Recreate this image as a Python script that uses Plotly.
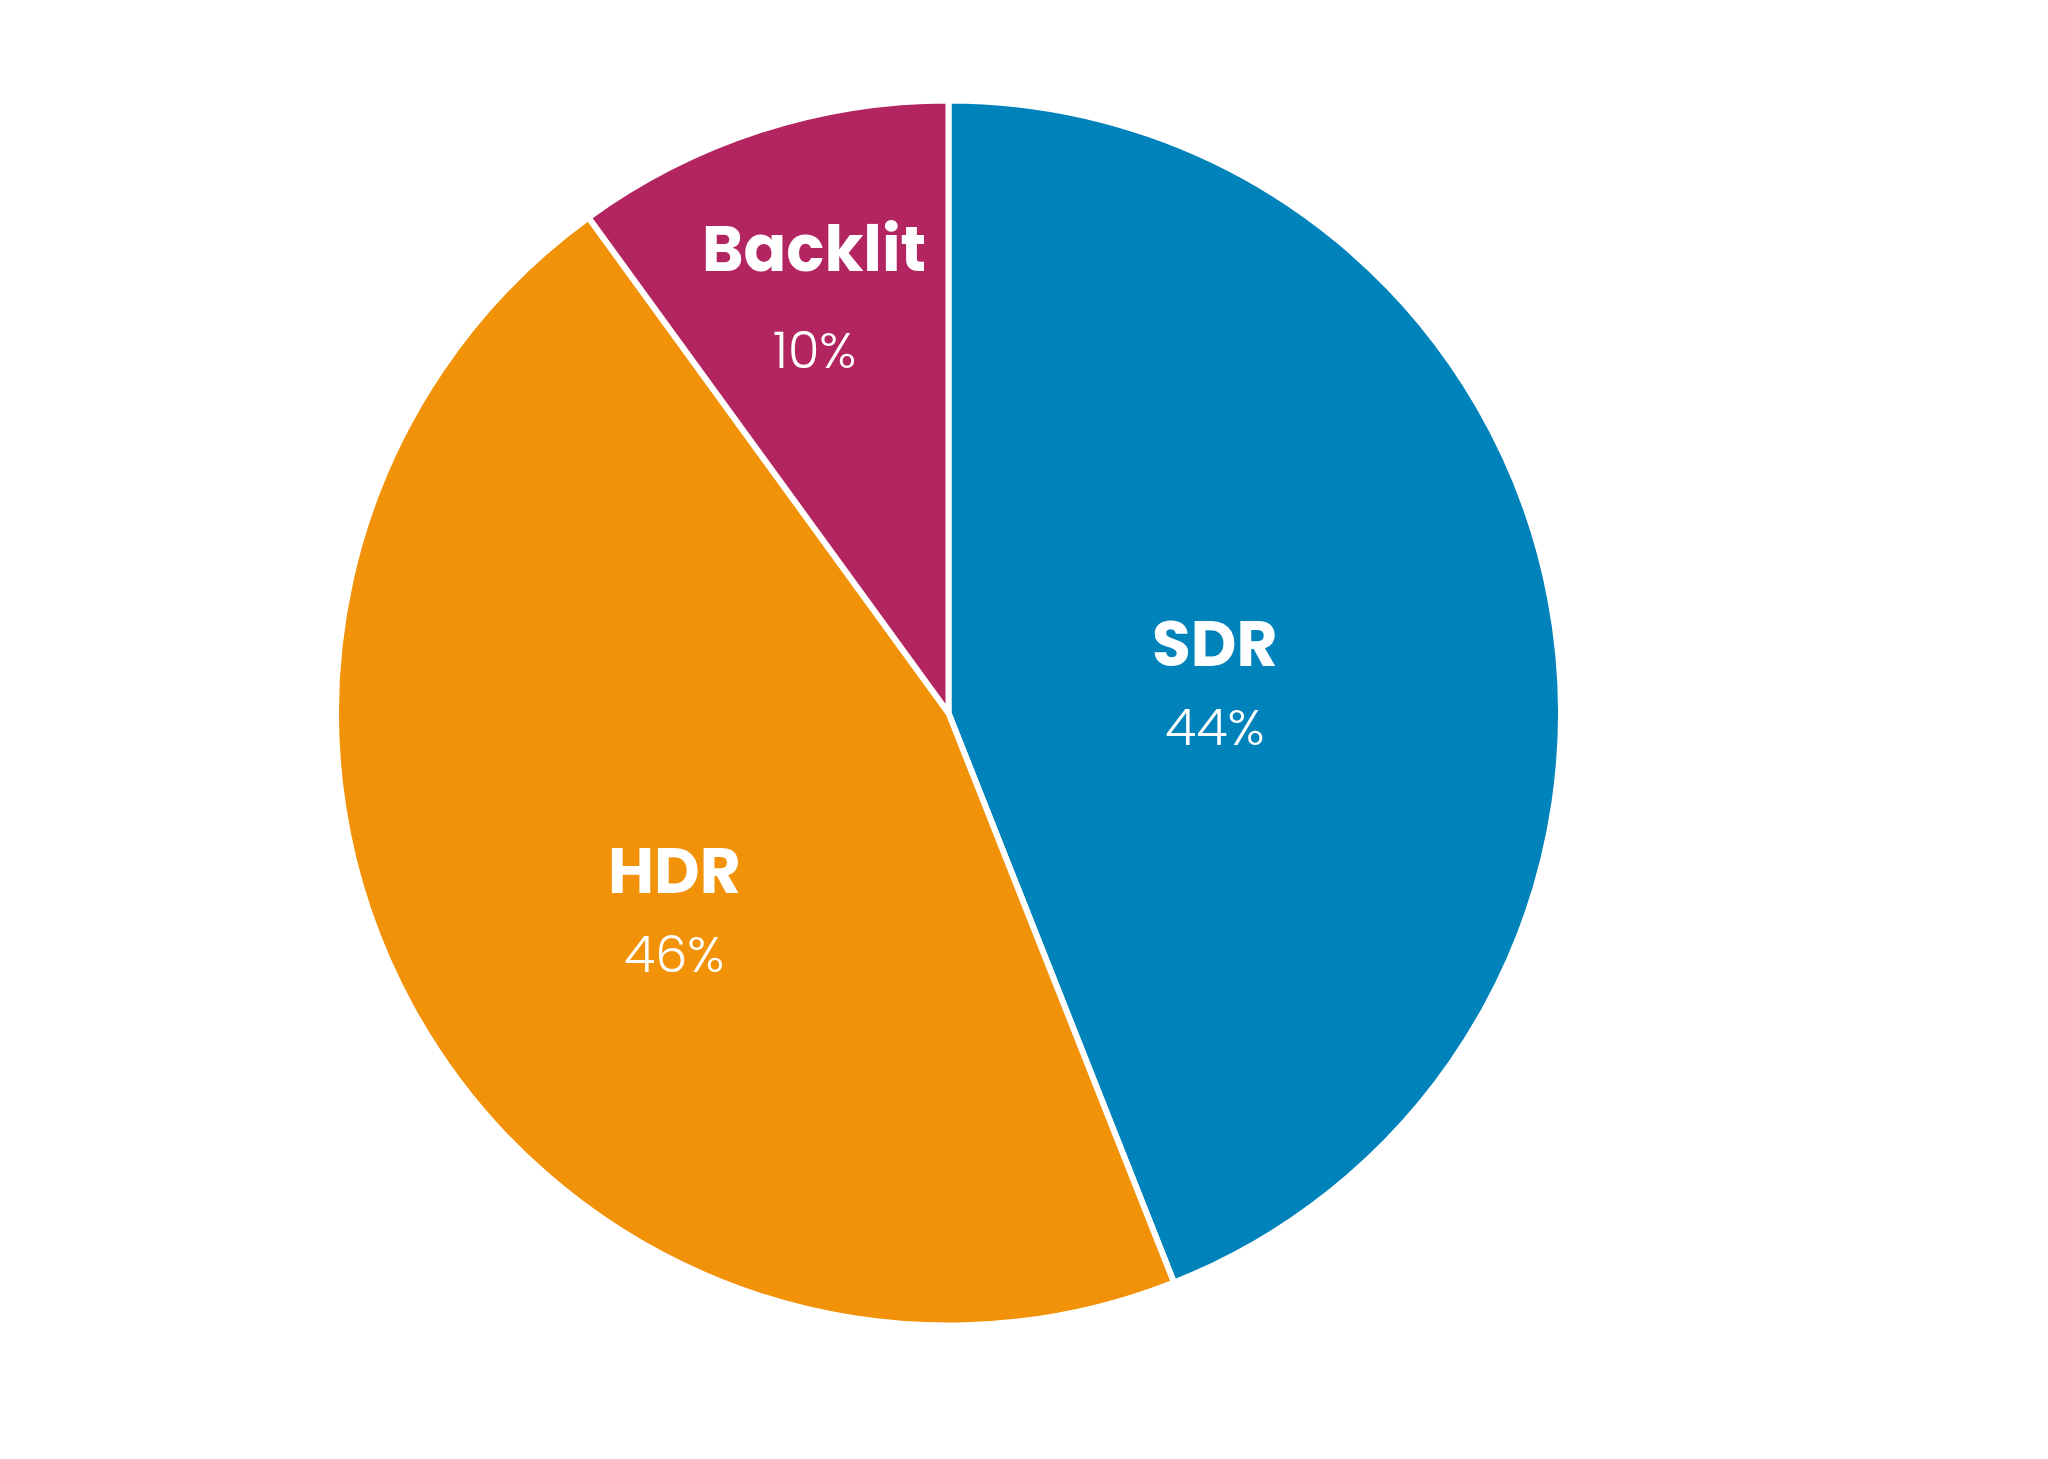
import math
import plotly.graph_objects as go

categories = ["SDR", "HDR", "Backlit"]
values = [44, 46, 10]
colors = ["#0083BB", "#F29209", "#B32561"]

W, H = 2048, 1459
OFF = 8  # default page body margin
dom_x = [(336 - OFF) / W, (1561 - OFF) / W]
dom_y = [(H - 1326 + OFF) / H, (H - 100 + OFF) / H]

fig = go.Figure(go.Pie(
    labels=categories, values=values, sort=False, direction="clockwise",
    rotation=0, textinfo="none", hoverinfo="label+percent",
    marker=dict(colors=colors, line=dict(color="white", width=6)),
    domain=dict(x=dom_x, y=dom_y), showlegend=False,
))

# label placement: angle (deg clockwise from top), radius fraction, half-gap px
label_pos = {"SDR": (84, 0.437, 41), "HDR": (234, 0.553, 41), "Backlit": (342, 0.71, 50)}
R_px = (dom_x[1] - dom_x[0]) * W / 2
cx = (dom_x[0] + dom_x[1]) / 2
cy = (dom_y[0] + dom_y[1]) / 2
total = sum(values)
for cat, v in zip(categories, values):
    ang, rf, gap = label_pos[cat]
    a = math.radians(ang)
    dx = math.sin(a) * rf * R_px
    dy = math.cos(a) * rf * R_px
    x = cx + dx / W
    y = cy + dy / H
    fig.add_annotation(x=x, y=y + gap / H, xref="paper", yref="paper", showarrow=False,
                       xanchor="center", yanchor="middle",
                       text=cat, font=dict(family="Poppins, Open Sans, sans-serif", size=63,
                                           color="white", weight=700))
    fig.add_annotation(x=x, y=y - (gap + 1) / H, xref="paper", yref="paper", showarrow=False,
                       xanchor="center", yanchor="middle",
                       text=f"{round(100 * v / total)}%",
                       font=dict(family="Poppins, Inter, Lato, sans-serif", size=51,
                                 color="white", weight=300))

fig.update_layout(width=W, height=H, margin=dict(l=0, r=0, t=0, b=0),
                  paper_bgcolor="white", plot_bgcolor="white")
fig.write_html("out.html")
